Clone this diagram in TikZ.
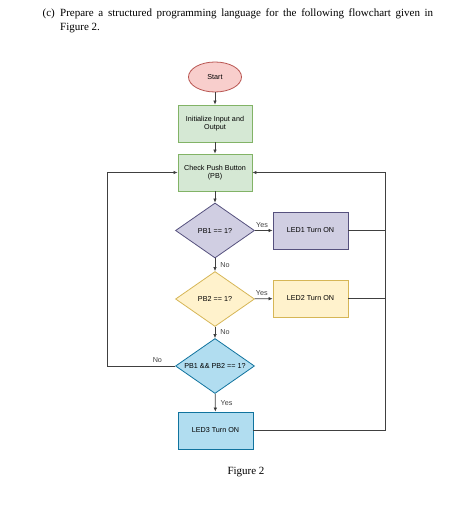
\documentclass[tikz,border=0pt]{standalone}
\usepackage{fontspec}
\setmainfont{Liberation Serif}
\newfontfamily\flowfont{Liberation Sans}
\usepackage{tikz}
\usetikzlibrary{shapes.geometric,arrows.meta,positioning,calc}

\definecolor{startfill}{HTML}{F8CECC}\definecolor{startline}{HTML}{B85450}
\definecolor{initfill}{HTML}{D5E8D4}\definecolor{initline}{HTML}{82B366}
\definecolor{purpfill}{HTML}{D0CEE2}\definecolor{purpline}{HTML}{56517E}
\definecolor{yellfill}{HTML}{FFF2CC}\definecolor{yellline}{HTML}{D6B656}
\definecolor{bluefill}{HTML}{B1DDF0}\definecolor{blueline}{HTML}{10739E}
\definecolor{wire}{HTML}{404040}

\begin{document}
\begin{tikzpicture}[x=1pt, y=-1pt,
	every node/.style={font=\flowfont\fontsize{7.2}{8.6}\selectfont},
	terminal/.style={ellipse, draw=startline, fill=startfill, line width=0.8pt, minimum width=53pt, minimum height=30pt, inner sep=0pt},
	procbox/.style={rectangle, draw=#1line, fill=#1fill, line width=0.8pt, minimum width=74pt, minimum height=37pt, align=center, inner sep=0pt},
	testbox/.style={diamond, draw=#1line, fill=#1fill, line width=0.8pt, minimum width=79pt, minimum height=55pt, aspect=1.44, inner sep=0pt, align=center},
	wireline/.style={draw=wire, line width=0.7pt},
	arr/.style={wireline, -{Latex[length=4pt,width=3.6pt]}},
	tag/.style={inner sep=1pt, text=black!75}]
	\useasboundingbox (0,0) rectangle (474,516);

	\node[font=\fontsize{11}{14}\selectfont, anchor=north west, text width=373pt, align=justify, inner sep=0pt] (task) at (60,9)
		{Prepare a structured programming language for the following flowchart given in\linebreak Figure~2.};
	\node[font=\fontsize{11}{14}\selectfont, anchor=north east, inner sep=0pt] (item) at ([xshift=-5pt]task.north west) {(c)};

	\node[terminal] (start) at (215,77) {Start};
	\node[procbox=init] (init) at (215,123.5) {Initialize Input and\\Output};
	\node[procbox=init] (check) at (215,172.5) {Check Push Button\\(PB)};
	\node[testbox=purp] (pbone) at (215,230.5) {PB1 == 1?};
	\node[procbox=purp, minimum width=75pt] (ledone) at (310.5,230.5) {LED1 Turn ON};
	\node[testbox=yell] (pbtwo) at (215,299) {PB2 == 1?};
	\node[procbox=yell, minimum width=75pt] (ledtwo) at (310.5,298.5) {LED2 Turn ON};
	\node[testbox=blue] (pbboth) at (215,366) {PB1 \&\& PB2 == 1?};
	\node[procbox=blue, minimum width=75pt] (ledthree) at (215.5,430.5) {LED3 Turn ON};

	\coordinate (lloop) at (107,172.5);
	\coordinate (rloop) at (385,172.5);

	\path[arr]
	(start) edge (init)
	(init) edge (check)
	(check) edge (pbone)
	(pbone) edge node[tag, pos=0.4, above=2pt] {Yes} (ledone)
	(pbone) edge node[tag, right=4pt] {No} (pbtwo)
	(pbtwo) edge node[tag, pos=0.4, above=2pt] {Yes} (ledtwo)
	(pbtwo) edge node[tag, right=4pt] {No} (pbboth)
	(pbboth) edge node[tag, right=4pt] {Yes} (ledthree);
	\draw[arr] (pbboth.west) -| node[tag, pos=0.13, above=2pt] {No} (lloop) -- (check.west);
	\draw[arr] (ledthree.east) -| (rloop) -- (check.east);
	\draw[wireline] (ledone.east) -- (ledone.east -| rloop);
	\draw[wireline] (ledtwo.east) -- (ledtwo.east -| rloop);

	\node[font=\fontsize{11}{14}\selectfont] (caption) at (246,472) {Figure 2};
\end{tikzpicture}
\end{document}
